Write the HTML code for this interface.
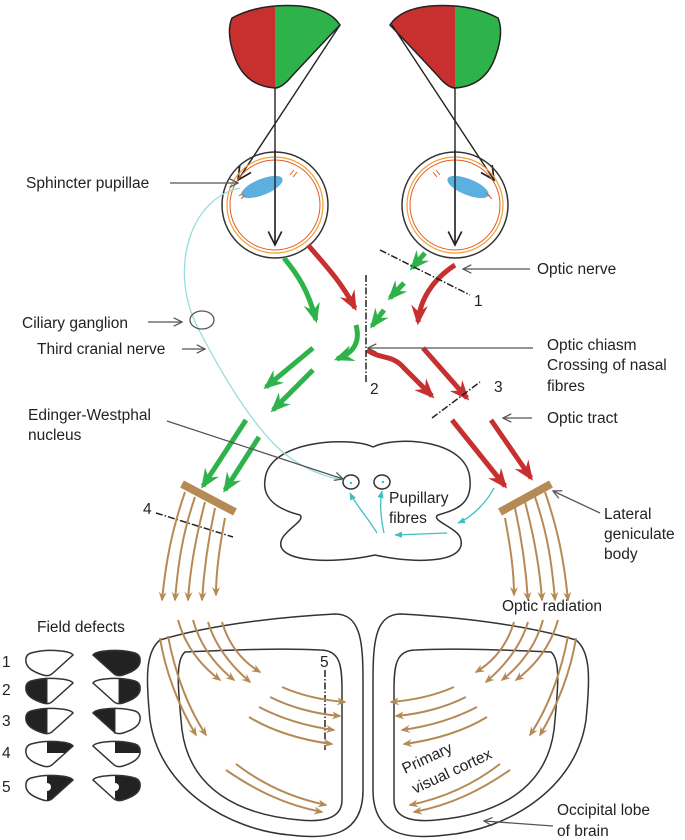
<!DOCTYPE html>
<html><head><meta charset="utf-8"><style>
html,body{margin:0;padding:0;background:#fff;}
svg{display:block;}
text{font-family:"Liberation Sans",Arial,sans-serif;font-size:15.5px;fill:#222;}
</style></head><body>
<svg width="685" height="840" viewBox="0 0 685 840" xmlns="http://www.w3.org/2000/svg">
<defs>
<marker id="hr" viewBox="0 0 12 10" refX="10" refY="5" markerWidth="4" markerHeight="4" orient="auto" markerUnits="strokeWidth"><path d="M0,0 L12,5 L0,10 L4,5Z" fill="#c8302f"/></marker>
<marker id="hg" viewBox="0 0 12 10" refX="10" refY="5" markerWidth="4" markerHeight="4" orient="auto" markerUnits="strokeWidth"><path d="M0,0 L12,5 L0,10 L4,5Z" fill="#2db34a"/></marker>
<marker id="hb" viewBox="0 0 12 10" refX="10" refY="5" markerWidth="5" markerHeight="4" orient="auto" markerUnits="strokeWidth"><path d="M0,0 L12,5 L0,10 L4,5Z" fill="#b58a55"/></marker>
<marker id="hc" viewBox="0 0 10 10" refX="9" refY="5" markerWidth="6" markerHeight="6" orient="auto" markerUnits="strokeWidth"><path d="M0,1 L10,5 L0,9Z" fill="#3fbfbf"/></marker>
<marker id="ha" viewBox="0 0 10 10" refX="9" refY="5" markerWidth="8" markerHeight="8" orient="auto" markerUnits="strokeWidth"><path d="M1,1 L9,5 L1,9" fill="none" stroke="#555" stroke-width="1.2"/></marker>
<marker id="hk" viewBox="0 0 10 10" refX="9" refY="5" markerWidth="12" markerHeight="12" orient="auto" markerUnits="strokeWidth"><path d="M1,1 L9,5 L1,9" fill="none" stroke="#222" stroke-width="1"/></marker>
<path id="fld" d="M232,18 Q260,3 300,6 Q330,9 340,25 Q318,48 292,76 Q282,88 275,88 Q244,86 234,55 Q226,32 232,18Z"/>
<clipPath id="cl"><use href="#fld"/></clipPath>
<clipPath id="cr"><use href="#fld" transform="translate(730,0) scale(-1,1)"/></clipPath>
<path id="fd" d="M6,3 Q20,-1 36,1 Q46,2 48,5 Q38,14 28,23 Q24,27 18,25 Q2,20 1,12 Q0,5 6,3Z"/>
<clipPath id="fdc"><use href="#fd"/></clipPath>
</defs>

<!-- visual fields -->
<g clip-path="url(#cl)"><rect x="220" y="0" width="55" height="95" fill="#c8302f"/><rect x="275" y="0" width="70" height="95" fill="#2db34a"/></g>
<use href="#fld" fill="none" stroke="#222" stroke-width="1.5"/>
<g clip-path="url(#cr)"><rect x="385" y="0" width="70" height="95" fill="#c8302f"/><rect x="455" y="0" width="60" height="95" fill="#2db34a"/></g>
<use href="#fld" transform="translate(730,0) scale(-1,1)" fill="none" stroke="#222" stroke-width="1.5"/>

<!-- rays -->
<g stroke="#222" stroke-width="1.4" fill="none">
<line x1="275" y1="88" x2="275" y2="245" marker-end="url(#hk)"/>
<line x1="340" y1="25" x2="238" y2="180" marker-end="url(#hk)"/>
<line x1="455" y1="88" x2="455" y2="245" marker-end="url(#hk)"/>
<line x1="392" y1="25" x2="494" y2="180" marker-end="url(#hk)"/>
</g>

<!-- eyes -->
<g fill="none">
<circle cx="275" cy="205" r="53" stroke="#333" stroke-width="1.5"/>
<circle cx="275" cy="205" r="48" stroke="#f0a030" stroke-width="1.2"/>
<circle cx="275" cy="205" r="45" stroke="#e85a20" stroke-width="1"/>
<circle cx="455" cy="205" r="53" stroke="#333" stroke-width="1.5"/>
<circle cx="455" cy="205" r="48" stroke="#f0a030" stroke-width="1.2"/>
<circle cx="455" cy="205" r="45" stroke="#e85a20" stroke-width="1"/>
</g>
<ellipse cx="262" cy="187" rx="22" ry="8" transform="rotate(-22 262 187)" fill="#5bb0e0"/>
<ellipse cx="468" cy="187" rx="22" ry="8" transform="rotate(22 468 187)" fill="#5bb0e0"/>
<g stroke="#e85a20" stroke-width="1"><line x1="239" y1="196" x2="243" y2="193"/><line x1="241" y1="199" x2="245" y2="195"/><line x1="290" y1="175" x2="294" y2="170"/><line x1="293" y1="177" x2="297" y2="172"/>
<line x1="440" y1="175" x2="436" y2="170"/><line x1="437" y1="177" x2="433" y2="172"/><line x1="490" y1="196" x2="486" y2="193"/><line x1="492" y1="199" x2="488" y2="195"/></g>
<line x1="275" y1="150" x2="275" y2="245" stroke="#222" stroke-width="1.4"/>
<line x1="455" y1="150" x2="455" y2="245" stroke="#222" stroke-width="1.4"/>

<!-- green/red pathways -->
<g fill="none" stroke-width="5" stroke-linecap="butt">
<path d="M284,258 C298,275 308,290 316,320" stroke="#2db34a" marker-end="url(#hg)"/>
<path d="M308,245 C325,265 340,280 355,308" stroke="#c8302f" marker-end="url(#hr)"/>
<path d="M455,265 C432,280 420,300 418,322" stroke="#c8302f" marker-end="url(#hr)"/>
<path d="M425,253 L412,268" stroke="#2db34a" marker-end="url(#hg)"/>
<path d="M404,283 L390,298" stroke="#2db34a" marker-end="url(#hg)"/>
<path d="M384,310 L372,326" stroke="#2db34a" marker-end="url(#hg)"/>
<path d="M356,325 C360,340 356,352 337,359" stroke="#2db34a" marker-end="url(#hg)"/>
<path d="M313,348 L266,387" stroke="#2db34a" marker-end="url(#hg)"/>
<path d="M313,370 L273,410" stroke="#2db34a" marker-end="url(#hg)"/>
<path d="M367,350 C382,360 392,354 404,368 L432,396" stroke="#c8302f" marker-end="url(#hr)"/>
<path d="M423,348 L467,398" stroke="#c8302f" marker-end="url(#hr)"/>
<path d="M246,420 L203,486" stroke="#2db34a" marker-end="url(#hg)"/>
<path d="M259,437 L225,490" stroke="#2db34a" marker-end="url(#hg)"/>
<path d="M452,420 L505,486" stroke="#c8302f" marker-end="url(#hr)"/>
<path d="M491,420 L531,478" stroke="#c8302f" marker-end="url(#hr)"/>
</g>

<!-- dash-dot lines -->
<g stroke="#222" stroke-width="1.5" stroke-dasharray="7,2,1.5,2" fill="none">
<line x1="380" y1="250" x2="470" y2="295"/>
<line x1="366" y1="275" x2="366" y2="383"/>
<line x1="432" y1="418" x2="480" y2="382"/>
<line x1="156" y1="513" x2="233" y2="537"/>
<line x1="325" y1="670" x2="325" y2="750"/>
</g>

<!-- LGB -->
<line x1="182" y1="484" x2="235" y2="512" stroke="#b58a55" stroke-width="8"/>
<line x1="551" y1="484" x2="500" y2="512" stroke="#b58a55" stroke-width="8"/>

<!-- radiation fibres -->
<g fill="none" stroke="#b58a55" stroke-width="2">
<path d="M185,492 C172,530 166,560 162,600" marker-end="url(#hb)"/>
<path d="M195,497 C182,535 178,565 175,600" marker-end="url(#hb)"/>
<path d="M205,502 C195,540 190,570 188,600" marker-end="url(#hb)"/>
<path d="M215,508 C208,540 204,570 202,600" marker-end="url(#hb)"/>
<path d="M225,518 C220,545 216,570 216,595" marker-end="url(#hb)"/>
<path d="M545,492 C558,530 564,560 568,600" marker-end="url(#hb)"/>
<path d="M535,497 C548,535 552,565 555,600" marker-end="url(#hb)"/>
<path d="M525,502 C535,540 540,570 542,600" marker-end="url(#hb)"/>
<path d="M515,508 C522,540 526,570 528,600" marker-end="url(#hb)"/>
<path d="M505,518 C510,545 514,570 514,595" marker-end="url(#hb)"/>
</g>

<!-- midbrain -->
<path d="M373,447 C395,436 468,438 470,480 C472,505 455,510 438,515 C430,520 455,527 460,537 C470,562 420,565 375,555 C330,565 268,562 283,537 C290,527 305,520 300,515 C280,510 262,500 265,480 C268,440 350,436 373,447Z" fill="none" stroke="#333" stroke-width="1.5"/>
<ellipse cx="351" cy="482" rx="8" ry="7" fill="none" stroke="#333" stroke-width="1.5"/>
<ellipse cx="382" cy="482" rx="8" ry="7" fill="none" stroke="#333" stroke-width="1.5"/>
<circle cx="351" cy="483" r="1.2" fill="#3fbfbf"/><circle cx="383" cy="482" r="1.2" fill="#3fbfbf"/>

<!-- cyan -->
<g fill="none" stroke="#7fd6d6" stroke-width="1.3">
<path d="M240,188 C190,198 168,270 198,328 C222,375 250,420 275,445 C295,465 320,476 343,480" stroke="#9adcdc"/>
<path d="M494,488 C485,505 470,518 458,523" stroke="#3fbfbf" marker-end="url(#hc)"/>
<path d="M447,533 L395,535" stroke="#3fbfbf" marker-end="url(#hc)"/>
<path d="M384,533 C380,515 380,500 382,491" stroke="#3fbfbf" marker-end="url(#hc)"/>
<path d="M377,533 C368,518 356,505 350,493" stroke="#3fbfbf" marker-end="url(#hc)"/>
</g>

<!-- occipital lobes -->
<g id="lobe">
<path d="M160,640 C200,628 260,618 335,614 C360,614 363,640 363,680 L363,790 C363,835 330,840 290,835 C230,830 160,790 150,720 C146,680 145,652 160,640Z" fill="none" stroke="#333" stroke-width="1.5"/>
<path d="M185,652 C230,650 280,648 320,650 C340,650 342,665 342,690 L342,800 C342,820 320,822 300,820 C240,815 190,790 182,730 C178,690 175,660 185,652Z" fill="none" stroke="#333" stroke-width="1.5"/>
<g fill="none" stroke="#b58a55" stroke-width="2">
<path d="M178,620 C185,645 200,665 220,680" marker-end="url(#hb)"/>
<path d="M193,620 C200,645 215,665 234,680" marker-end="url(#hb)"/>
<path d="M208,622 C215,645 230,665 250,682" marker-end="url(#hb)"/>
<path d="M222,622 C228,642 240,660 260,672" marker-end="url(#hb)"/>
<path d="M160,638 C165,670 178,705 196,735" marker-end="url(#hb)"/>
<path d="M168,636 C174,668 186,705 206,735" marker-end="url(#hb)"/>
<path d="M282,687 C300,695 320,700 345,702" marker-end="url(#hb)"/>
<path d="M270,697 C290,707 315,714 340,716" marker-end="url(#hb)"/>
<path d="M259,707 C280,718 305,726 334,730" marker-end="url(#hb)"/>
<path d="M249,717 C270,730 300,740 332,744" marker-end="url(#hb)"/>
<path d="M226,770 C255,790 285,805 322,812" marker-end="url(#hb)"/>
<path d="M236,764 C262,784 292,798 326,805" marker-end="url(#hb)"/>
</g>
</g>
<use href="#lobe" transform="translate(736,0) scale(-1,1)"/>

<!-- field defects -->
<g stroke="#333" stroke-width="1.5">
<g transform="translate(25,650)"><use href="#fd" fill="#fff"/></g>
<g transform="translate(93,650)"><use href="#fd" fill="#222" transform="translate(48,0) scale(-1,1)"/></g>
<g transform="translate(25,678)"><g clip-path="url(#fdc)"><rect x="0" y="-2" width="22" height="30" fill="#222" stroke="none"/></g><use href="#fd" fill="none"/><line x1="22" y1="0" x2="22" y2="26" stroke-width="1"/></g>
<g transform="translate(93,678)"><g transform="translate(48,0) scale(-1,1)"><g clip-path="url(#fdc)"><rect x="0" y="-2" width="22" height="30" fill="#222" stroke="none"/></g><use href="#fd" fill="none"/><line x1="22" y1="0" x2="22" y2="26" stroke-width="1"/></g></g>
<g transform="translate(25,708)"><g clip-path="url(#fdc)"><rect x="0" y="-2" width="22" height="30" fill="#222" stroke="none"/></g><use href="#fd" fill="none"/><line x1="22" y1="0" x2="22" y2="26" stroke-width="1"/></g>
<g transform="translate(93,708)"><g transform="translate(48,0) scale(-1,1)"><g clip-path="url(#fdc)"><rect x="26" y="-2" width="30" height="30" fill="#222" stroke="none"/></g><use href="#fd" fill="none"/><line x1="26" y1="0" x2="26" y2="26" stroke-width="1"/></g></g>
<g transform="translate(25,741)"><g clip-path="url(#fdc)"><rect x="22" y="-2" width="30" height="14" fill="#222" stroke="none"/></g><use href="#fd" fill="none"/></g>
<g transform="translate(93,741)"><g transform="translate(48,0) scale(-1,1)"><g clip-path="url(#fdc)"><rect x="-2" y="-2" width="28" height="14" fill="#222" stroke="none"/></g><use href="#fd" fill="none"/></g></g>
<g transform="translate(25,775)"><g clip-path="url(#fdc)"><rect x="22" y="-2" width="30" height="30" fill="#222" stroke="none"/><circle cx="22" cy="12" r="4" fill="#fff" stroke="none"/></g><use href="#fd" fill="none"/></g>
<g transform="translate(93,775)"><g transform="translate(48,0) scale(-1,1)"><g clip-path="url(#fdc)"><rect x="-2" y="-2" width="28" height="30" fill="#222" stroke="none"/><circle cx="26" cy="12" r="4" fill="#fff" stroke="none"/></g><use href="#fd" fill="none"/></g></g>
</g>

<!-- pointer lines -->
<g stroke="#555" stroke-width="1.3" fill="none">
<line x1="170" y1="183" x2="238" y2="183" marker-end="url(#ha)"/>
<line x1="148" y1="322" x2="182" y2="322" marker-end="url(#ha)"/>
<line x1="182" y1="349" x2="205" y2="349" marker-end="url(#ha)"/>
<line x1="167" y1="421" x2="343" y2="479" marker-end="url(#ha)"/>
<line x1="530" y1="269" x2="463" y2="269" marker-end="url(#ha)"/>
<line x1="533" y1="348" x2="368" y2="348" marker-end="url(#ha)"/>
<line x1="532" y1="418" x2="503" y2="418" marker-end="url(#ha)"/>
<line x1="600" y1="513" x2="553" y2="491" marker-end="url(#ha)"/>
<line x1="553" y1="826" x2="484" y2="821" marker-end="url(#ha)"/>
</g>
<ellipse cx="202" cy="320" rx="12" ry="9" fill="none" stroke="#555" stroke-width="1.3"/>

<!-- labels -->
<text x="26" y="188">Sphincter pupillae</text>
<text x="22" y="328">Ciliary ganglion</text>
<text x="37" y="354">Third cranial nerve</text>
<text x="28" y="420">Edinger-Westphal</text>
<text x="28" y="440">nucleus</text>
<text x="537" y="274">Optic nerve</text>
<text x="474" y="306">1</text>
<text x="547" y="350">Optic chiasm</text>
<text x="547" y="370">Crossing of nasal</text>
<text x="547" y="391">fibres</text>
<text x="370" y="394">2</text>
<text x="494" y="392">3</text>
<text x="547" y="423">Optic tract</text>
<text x="143" y="514">4</text>
<text x="389" y="503">Pupillary</text>
<text x="389" y="523">fibres</text>
<text x="604" y="519">Lateral</text>
<text x="604" y="539">geniculate</text>
<text x="604" y="559">body</text>
<text x="502" y="611">Optic radiation</text>
<text x="37" y="632">Field defects</text>
<text x="2" y="667">1</text>
<text x="2" y="695">2</text>
<text x="2" y="726">3</text>
<text x="2" y="758">4</text>
<text x="2" y="792">5</text>
<text x="320" y="667">5</text>
<text x="405" y="774" transform="rotate(-25 405 774)">Primary</text>
<text x="415" y="794" transform="rotate(-25 415 794)">visual cortex</text>
<text x="557" y="815">Occipital lobe</text>
<text x="557" y="836">of brain</text>
</svg>
</body></html>
